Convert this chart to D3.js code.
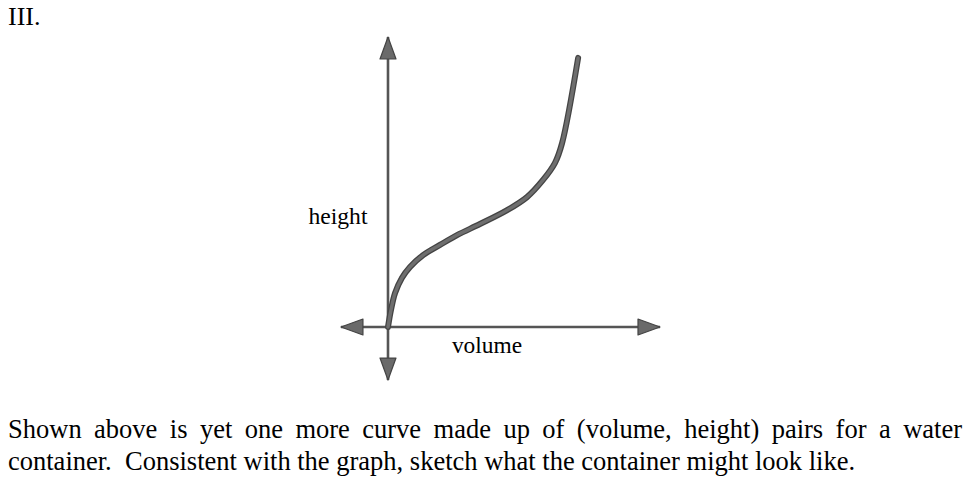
<!DOCTYPE html>
<html>
<head>
<meta charset="utf-8">
<script src="https://cdn.jsdelivr.net/npm/d3@7"></script>
<style>
  body { margin: 0; background: #fff; }
  text { font-family: "Liberation Serif", "Times New Roman", serif; fill: #000; }
</style>
</head>
<body>
<div id="chart"></div>
<script>
// curve data (volume, height) in arbitrary units
var volume = [0, 1.1, 2.6, 5.1, 8.1, 12.9, 19.1, 25.4, 33.8, 43.8, 51.1, 57.0, 61.4, 64.0, 69.9];
var height = [0, 5.9, 11.7, 16.9, 20.7, 24.8, 28.3, 31.7, 35.5, 40.3, 44.8, 50.7, 56.6, 63.4, 92.8];

var axisLabels = ["volume", "height"];
var sectionLabel = "III.";
var captionLines = [
  "Shown above is yet one more curve made up of (volume, height) pairs for a water",
  "container.  Consistent with the graph, sketch what the container might look like."
];

function setUpChart() {
  var svgWidth = 970;
  var svgHeight = 479;

  var svg = d3.select("#chart")
    .append("svg")
    .attr("width", svgWidth)
    .attr("height", svgHeight);

  // scales: origin of the plot sits at (388, 327)
  var xScale = d3.scaleLinear().domain([0, 100]).range([388, 660]);
  var yScale = d3.scaleLinear().domain([0, 100]).range([327, 37]);

  var axisColor = "#555";

  // axis lines
  svg.append("line")
    .attr("x1", xScale(-17.3)).attr("x2", xScale(100))
    .attr("y1", yScale(0)).attr("y2", yScale(0))
    .attr("stroke", axisColor).attr("stroke-width", 2.6);

  svg.append("line")
    .attr("x1", xScale(0)).attr("x2", xScale(0))
    .attr("y1", yScale(-18.3)).attr("y2", yScale(100))
    .attr("stroke", axisColor).attr("stroke-width", 2.6);

  // arrow heads (tip point + direction)
  var headLen = 22, headHalf = 8;
  var arrows = [
    { x: xScale(100), y: yScale(0), dx: 1, dy: 0 },
    { x: xScale(-17.3), y: yScale(0), dx: -1, dy: 0 },
    { x: xScale(0), y: yScale(100), dx: 0, dy: -1 },
    { x: xScale(0), y: yScale(-18.3), dx: 0, dy: 1 }
  ];
  svg.selectAll("polygon.arrow")
    .data(arrows)
    .enter()
    .append("polygon")
    .attr("class", "arrow")
    .attr("points", function(a) {
      var bx = a.x - a.dx * headLen, by = a.y - a.dy * headLen;
      var px = -a.dy * headHalf, py = a.dx * headHalf;
      return [[a.x, a.y], [bx + px, by + py], [bx - px, by - py]].join(" ");
    })
    .attr("fill", "#6a6a6a")
    .attr("stroke", "#444")
    .attr("stroke-width", 1.2)
    .attr("stroke-linejoin", "round");

  // the curve
  var pts = volume.map(function(v, i) { return [v, height[i]]; });
  var line = d3.line()
    .x(d => xScale(d[0]))
    .y(d => yScale(d[1]))
    .curve(d3.curveCatmullRom.alpha(0.5));

  svg.append("path")
    .attr("d", line(pts))
    .attr("fill", "none")
    .attr("stroke", "#444")
    .attr("stroke-width", 6)
    .attr("stroke-linecap", "round");
  svg.append("path")
    .attr("d", line(pts))
    .attr("fill", "none")
    .attr("stroke", "#6e6e6e")
    .attr("stroke-width", 3.4)
    .attr("stroke-linecap", "round");

  // axis labels
  svg.append("text")
    .attr("x", 487).attr("y", 353)
    .attr("text-anchor", "middle")
    .attr("font-size", "23.4px")
    .text(axisLabels[0]);

  svg.append("text")
    .attr("x", 338).attr("y", 224)
    .attr("text-anchor", "middle")
    .attr("font-size", "23.6px")
    .text(axisLabels[1]);

  // section number
  svg.append("text")
    .attr("x", 8).attr("y", 25)
    .attr("font-size", "26px")
    .text(sectionLabel);

  // caption, first line justified word by word
  var left = 8, right = 962;
  var words = captionLines[0].split(" ");
  var g = svg.append("g");
  var wEls = words.map(function(w) {
    return g.append("text").attr("y", 438).attr("font-size", "26.5px").text(w);
  });
  var widths = wEls.map(el => el.node().getComputedTextLength());
  var gap = (right - left - d3.sum(widths)) / (words.length - 1);
  var cx = left;
  wEls.forEach(function(el, i) {
    el.attr("x", cx);
    cx += widths[i] + gap;
  });

  svg.append("text")
    .attr("x", left).attr("y", 470)
    .attr("font-size", "26.5px")
    .attr("xml:space", "preserve")
    .style("white-space", "pre")
    .text(captionLines[1]);
}

setUpChart();
</script>
</body>
</html>
